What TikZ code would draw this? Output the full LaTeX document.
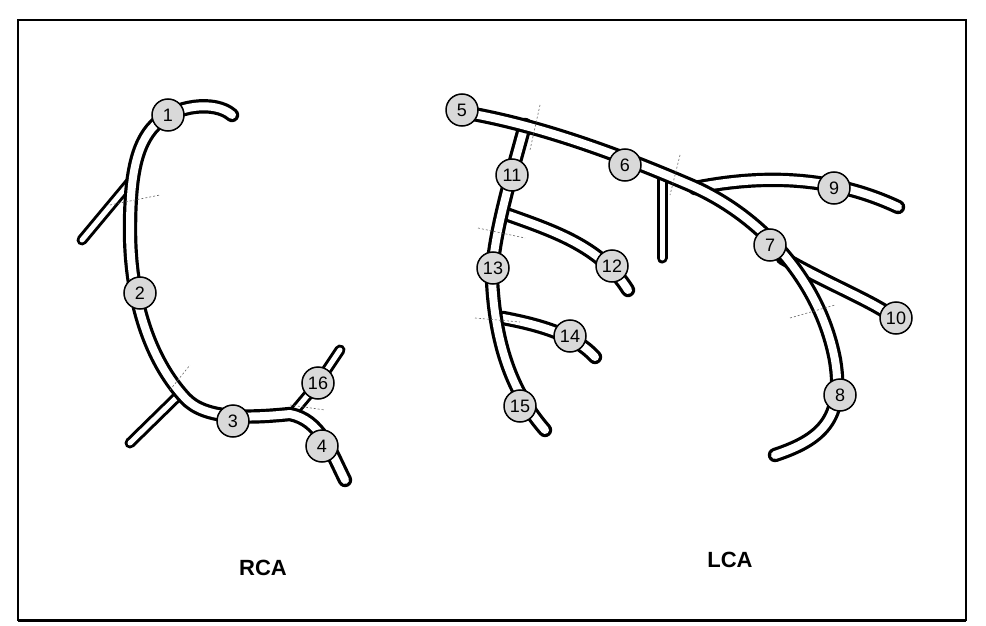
\documentclass[tikz,border=0pt]{standalone}
\usepackage{fontspec}
\setmainfont{Liberation Sans}
\begin{document}
\begin{tikzpicture}[x=1pt,y=-1pt,
  vessel/.style={draw=black,line width=3.2pt,double=white,double distance=8pt,line cap=round,line join=round},
  thin/.style={draw=black,line width=3pt,double=white,double distance=5pt,line cap=round,line join=round},
  seg/.style={circle,draw=black,line width=1.5pt,fill=black!15,minimum size=32pt,inner sep=0pt,font=\fontsize{18}{18}\selectfont},
  cut/.style={draw=black!60,line width=0.6pt,dash pattern=on 2pt off 2pt},
  lab/.style={font=\bfseries\fontsize{22}{22}\selectfont}]
\useasboundingbox (0,0) rectangle (986,626);
\fill[white] (0,0) rectangle (986,626);
\draw[line width=1.5pt] (18,20) rectangle (966,620);
\draw[line width=3pt] (18,620) -- (966,620);
% RCA
\draw[thin] (132,180) -- (82,240);
\draw[thin] (176,398) -- (130,443);
\draw[thin] (292,414) -- (318,383) -- (340,350);
\draw[vessel] (232,115) .. controls (215,100) and (175,105) .. (155,125)
  .. controls (135,145) and (130,180) .. (130,230)
  .. controls (130,300) and (150,360) .. (185,398)
  .. controls (205,420) and (250,418) .. (290,414)
  .. controls (320,420) and (330,450) .. (345,480);
% LCA
\draw[thin] (662,178) -- (662,258);
\draw[vessel] (695,188) .. controls (760,175) and (830,175) .. (898,207);
\draw[vessel] (783,258) .. controls (830,285) and (870,300) .. (895,318);
\draw[vessel] (503,213) .. controls (550,230) and (600,245) .. (628,290);
\draw[vessel] (503,318) .. controls (540,325) and (575,335) .. (595,357);
\draw[vessel] (525,125) .. controls (510,180) and (492,240) .. (492,280)
  .. controls (495,340) and (510,390) .. (545,430);
\draw[vessel] (462,112) .. controls (540,125) and (620,155) .. (690,185)
  .. controls (760,215) and (820,280) .. (835,360)
  .. controls (845,420) and (820,440) .. (775,455);
% cut marks
\draw[cut] (110,205) -- (160,195);
\draw[cut] (170,390) -- (190,365);
\draw[cut] (290,405) -- (325,410);
\draw[cut] (540,105) -- (530,150);
\draw[cut] (680,155) -- (670,195);
\draw[cut] (478,228) -- (525,238);
\draw[cut] (475,318) -- (520,322);
\draw[cut] (790,318) -- (835,305);
% segment labels
\node[seg] (s1) at (168,115) {1};
\node[seg] (s2) at (140,293) {2};
\node[seg] (s3) at (233,421) {3};
\node[seg] (s4) at (322,446) {4};
\node[seg] (s16) at (318,383) {16};
\node[seg] (s5) at (462,110) {5};
\node[seg] (s6) at (625,165) {6};
\node[seg] (s7) at (770,245) {7};
\node[seg] (s8) at (840,395) {8};
\node[seg] (s9) at (834,188) {9};
\node[seg] (s10) at (896,318) {10};
\node[seg] (s11) at (512,175) {11};
\node[seg] (s12) at (612,266) {12};
\node[seg] (s13) at (493,268) {13};
\node[seg] (s14) at (570,336) {14};
\node[seg] (s15) at (520,406) {15};
\node[lab] (rca) at (263,568) {RCA};
\node[lab] (lca) at (730,560) {LCA};
\end{tikzpicture}
\end{document}
